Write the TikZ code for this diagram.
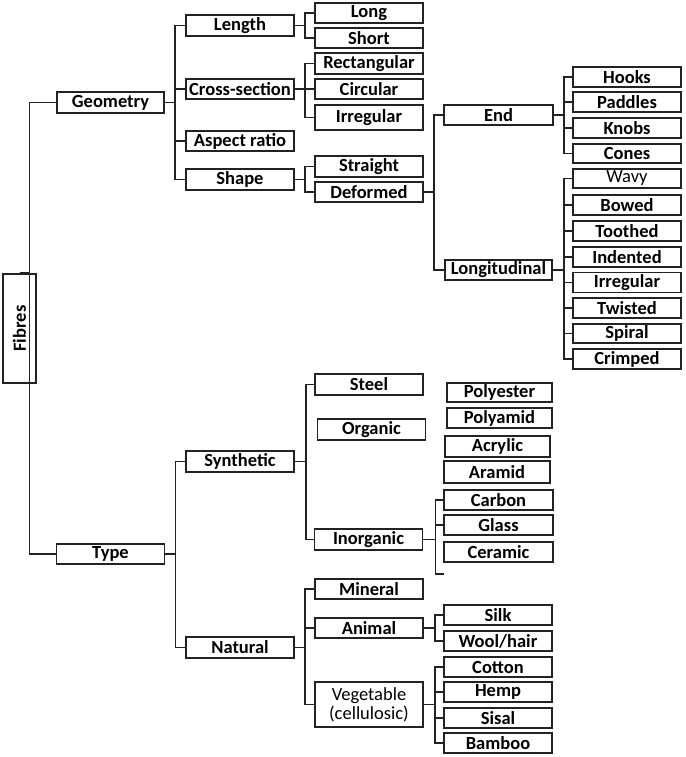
\documentclass[tikz,border=0pt]{standalone}
\usepackage{fontspec}
\setmainfont{Carlito}
\definecolor{lc}{HTML}{222222}
\begin{document}
\begin{tikzpicture}[x=1pt,y=-1pt,
  box/.style={draw=lc, line width=1.7pt, minimum height=20pt, minimum width=108pt, inner sep=0pt,
    font=\fontsize{18.5}{18.5}\selectfont\bfseries},
  lite/.style={font=\fontsize{18.5}{19}\selectfont},
  conn/.style={draw=lc, line width=1.7pt}]
\useasboundingbox (0,0) rectangle (685,757);
% root
\node[box, rotate=90, minimum width=109pt, minimum height=33pt] (fib) at (19.5,328.5) {Fibres};
% column 1
\node[box, minimum width=107pt, minimum height=21pt] (geo) at (110.5,102.5) {Geometry};
\node[box, minimum width=108pt] (type) at (110.5,554) {Type};
% column 2
\node[box, minimum height=21pt] (len) at (240,25.5) {Length};
\node[box] (cross) at (240,89) {Cross-section};
\node[box] (asp) at (240,141) {Aspect ratio};
\node[box, minimum height=21pt] (shape) at (240,179.5) {Shape};
\node[box, minimum height=21pt] (synth) at (240,461.5) {Synthetic};
\node[box, minimum height=21pt] (nat) at (240,647.5) {Natural};
% column 3
\node[box] (long) at (369,13) {Long};
\node[box] (short) at (369,38) {Short};
\node[box, minimum height=21pt] (rect) at (369,63.5) {Rectangular};
\node[box] (circ) at (369,89) {Circular};
\node[box, minimum height=25pt] (irr) at (369,117.5) {Irregular};
\node[box, minimum height=21pt] (straight) at (369,166.5) {Straight};
\node[box] (def) at (369,192) {Deformed};
\node[box, minimum height=21pt] (steel) at (369,384.5) {Steel};
\node[box, minimum height=21pt] (org) at (371.5,429.5) {Organic};
\node[box, minimum height=21pt] (inorg) at (368.5,539.5) {Inorganic};
\node[box] (min) at (369,589) {Mineral};
\node[box] (anim) at (369,628) {Animal};
\node[box, lite, minimum height=45pt, align=center] (veg) at (369,704.5) {Vegetable\\(cellulosic)};
% column 4
\node[box, minimum width=109pt] (end) at (498.5,115) {End};
\node[box, minimum width=107pt] (longi) at (498.5,270) {Longitudinal};
\node[box, minimum width=105pt, minimum height=19pt] (pest) at (499.5,392.5) {Polyester};
\node[box, minimum width=105pt] (pam) at (499.5,418) {Polyamid};
\node[box, minimum width=105pt, minimum height=21pt] (acr) at (497.5,446.5) {Acrylic};
\node[box, minimum width=106pt, minimum height=22pt] (ara) at (497,472) {Aramid};
\node[box, minimum width=109pt] (carb) at (498.5,500) {Carbon};
\node[box, minimum width=109pt] (glass) at (498.5,525) {Glass};
\node[box, minimum width=109pt] (cer) at (498.5,552) {Ceramic};
\node[box] (silk) at (498,615) {Silk};
\node[box] (wool) at (498,641) {Wool/hair};
\node[box] (cot) at (498,667) {Cotton};
\node[box] (hemp) at (498,692) {Hemp};
\node[box] (sis) at (498,718) {Sisal};
\node[box] (bam) at (498,743) {Bamboo};
% column 5
\node[box] (hook) at (627,77) {Hooks};
\node[box] (pad) at (627,102) {Paddles};
\node[box] (knob) at (627,128) {Knobs};
\node[box, minimum height=19pt] (cone) at (627,153.5) {Cones};
\node[box, lite, minimum height=19pt] (wavy) at (627,178.5) {Wavy};
\node[box] (bow) at (627,205) {Bowed};
\node[box] (tooth) at (627,231) {Toothed};
\node[box] (ind) at (627,257) {Indented};
\node[box] (irr2) at (627,282.5) {Irregular};
\node[box] (twist) at (627,308) {Twisted};
\node[box, minimum height=19pt] (spir) at (627,333.5) {Spiral};
\node[box] (crimp) at (627,359) {Crimped};
% connectors
\foreach \p/\d/\c in {fib/10/geo, fib/10/type,
  geo/10/len, geo/10/cross, geo/10/asp, geo/10/shape,
  len/10/long, len/10/short,
  cross/10/rect, cross/10/circ, cross/10/irr,
  shape/10/straight, shape/10/def,
  def/10/end, def/10/longi,
  end/10/hook, end/10/pad, end/10/knob, end/10/cone,
  longi/11/wavy, longi/11/bow, longi/11/tooth, longi/11/ind, longi/11/irr2, longi/11/twist, longi/11/spir, longi/11/crimp,
  type/10/synth, type/10/nat,
  synth/11/steel, synth/11/inorg,
  inorg/12/carb, inorg/12/glass,
  nat/10/min, nat/10/anim, nat/10/veg,
  anim/11/silk, anim/11/wool,
  veg/11/cot, veg/11/hemp, veg/11/sis, veg/11/bam}
  {\draw[conn] (\p.east) -- ++(\d,0) |- (\c.west);}
\coordinate (inhook) at (444,574);
\draw[conn] (inorg.east) -- ++(12,0) |- (inhook);
\end{tikzpicture}
\end{document}
